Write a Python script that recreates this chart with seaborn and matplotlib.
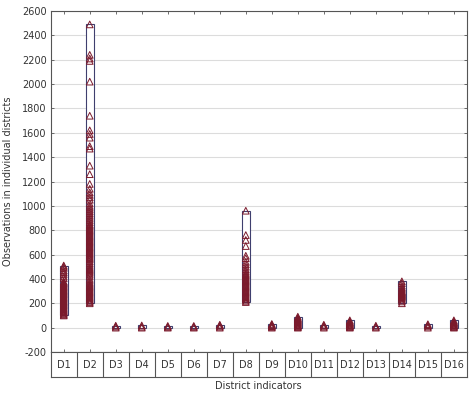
import matplotlib
matplotlib.use("Agg")
import matplotlib.pyplot as plt
import seaborn as sns
import pandas as pd

districts = ["D1", "D2", "D3", "D4", "D5", "D6", "D7", "D8",
             "D9", "D10", "D11", "D12", "D13", "D14", "D15", "D16"]

d1 = [100, 105, 112, 120, 128, 135, 140, 148, 155, 162, 170, 178, 185, 192,
      200, 208, 215, 222, 230, 238, 245, 252, 260, 268, 275, 282, 290, 298,
      305, 312, 320, 328, 335, 342, 350, 358, 365, 372, 380, 405, 420, 440,
      455, 470, 490, 500, 510]
d2 = [2490, 2240, 2210, 2190, 2020, 1740, 1620, 1590, 1560, 1490, 1470, 1330,
      1260, 1180, 1140, 1110, 1090, 1070, 1050, 1020, 1000, 985, 970, 955,
      940, 925, 910, 895, 880, 865, 850, 840, 830, 820, 810, 800, 790, 780,
      770, 760, 750, 740, 730, 720, 710, 700, 690, 680, 670, 660, 650, 640,
      630, 620, 610, 600, 590, 580, 570, 560, 545, 530, 515, 500, 490, 480,
      470, 460, 450, 435, 420, 400, 385, 370, 360, 350, 340, 330, 320, 310,
      300, 290, 280, 270, 260, 250, 240, 230, 220, 210, 200]
d3 = [0, 8, 16]
d4 = [0, 7, 18]
d5 = [0, 6, 14]
d6 = [0, 6, 14]
d7 = [0, 8, 16, 24]
d8 = [960, 760, 720, 670, 590, 570, 540, 520, 500, 480, 465, 450, 440, 430,
      420, 410, 400, 390, 380, 370, 360, 350, 340, 330, 320, 310, 300, 290,
      280, 270, 260, 250, 240, 230, 220, 210]
d9 = [0, 6, 12, 18, 24, 30]
d10 = [0, 5, 10, 15, 20, 25, 30, 35, 40, 45, 50, 55, 60, 65, 70, 75, 80, 90]
d11 = [0, 8, 16, 24]
d12 = [0, 5, 10, 15, 20, 25, 30, 35, 40, 45, 50, 60]
d13 = [0, 7, 16]
d14 = [380, 365, 345, 330, 320, 310, 300, 295, 290, 285, 280, 275, 270, 265,
       260, 255, 250, 240, 230, 215, 200]
d15 = [0, 10, 20, 28]
d16 = [0, 5, 10, 15, 20, 25, 30, 35, 40, 45, 50, 60]

values = [d1, d2, d3, d4, d5, d6, d7, d8, d9, d10, d11, d12, d13, d14, d15, d16]

rows = []
for name, vals in zip(districts, values):
    for v in vals:
        rows.append({"district": name, "value": v})
df = pd.DataFrame(rows)
rng_df = df.groupby("district", sort=False)["value"].agg(["min", "max"]).reindex(districts)

y_ticks = list(range(-200, 2601, 200))

sns.set_style("white")
plt.rcParams["font.family"] = ["DejaVu Sans"]

fig = plt.figure(figsize=(4.74, 3.99), dpi=100)
ax = fig.add_axes([0.107, 0.1178, 0.878, 0.8546])

marker_col = "#7b1a2c"
box_col = "#3f3f6e"

# range boxes
ax.bar(range(len(districts)), rng_df["max"] - rng_df["min"], bottom=rng_df["min"],
       width=0.32, facecolor="white", edgecolor=box_col, linewidth=0.8, zorder=2)

sns.stripplot(data=df, x="district", y="value", order=districts, jitter=False,
              marker="^", size=4.8, color=marker_col, ax=ax, zorder=3)
for coll in ax.collections:
    coll.set_facecolor("none")
    coll.set_edgecolor(marker_col)
    coll.set_linewidth(0.7)

ax.set_xlim(-0.5, len(districts) - 0.5)
ax.set_ylim(-200, 2600)
ax.set_yticks(y_ticks)
ax.set_yticklabels([str(t) for t in y_ticks], fontsize=7, color="#333333")
ax.set_xticks(range(len(districts)))
ax.set_xticklabels([])
ax.set_xlabel("")
ax.set_ylabel("Observations in individual districts", fontsize=7, color="#333333", labelpad=6)
ax.yaxis.grid(True, color="#dcdcdc", linewidth=0.8, zorder=0)
ax.set_axisbelow(True)
ax.tick_params(axis="both", direction="in", length=2, width=0.6, color="#555555",
               top=True, right=True, left=True, bottom=True)
ax.tick_params(axis="y", pad=3)
for s in ax.spines.values():
    s.set_color("#555555")
    s.set_linewidth(0.8)

# category label row
ax2 = fig.add_axes([0.107, 0.0551, 0.878, 0.0627])
ax2.set_xlim(-0.5, len(districts) - 0.5)
ax2.set_ylim(0, 1)
ax2.set_xticks([])
ax2.set_yticks([])
for i in range(len(districts) - 1):
    ax2.axvline(i + 0.5, color="#555555", linewidth=0.8)
for i, name in enumerate(districts):
    ax2.text(i, 0.5, name, ha="center", va="center", fontsize=7, color="#333333")
for s in ax2.spines.values():
    s.set_color("#555555")
    s.set_linewidth(0.8)
ax2.set_xlabel("District indicators", fontsize=7, color="#333333", labelpad=3)

fig.savefig("out.png", dpi=100)
